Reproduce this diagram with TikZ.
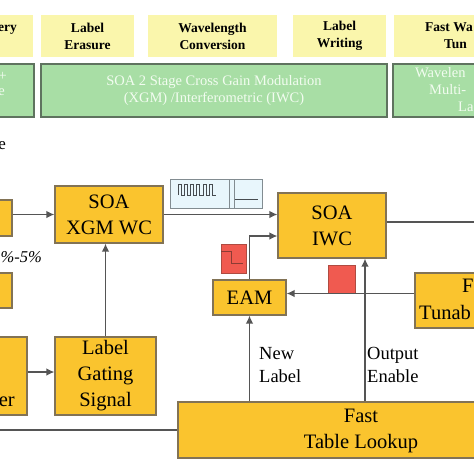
\documentclass[tikz,border=0pt]{standalone}
\usepackage{fontspec}
\setmainfont{Liberation Serif}
\usetikzlibrary{arrows.meta}
\definecolor{orangef}{RGB}{250,196,46}
\definecolor{orangeb}{RGB}{130,115,85}
\definecolor{yellowf}{RGB}{250,246,172}
\definecolor{greenf}{RGB}{168,222,165}
\definecolor{greenb}{RGB}{95,115,95}
\definecolor{greent}{RGB}{242,252,240}
\definecolor{redf}{RGB}{240,90,80}
\definecolor{redb}{RGB}{175,75,65}
\definecolor{linec}{RGB}{85,85,85}
\definecolor{pktf}{RGB}{232,246,252}
\definecolor{pktb}{RGB}{130,140,145}
\definecolor{wavec}{RGB}{70,75,80}
\tikzset{
  obox/.style={draw=orangeb, fill=orangef, line width=1.1pt, inner sep=0pt, align=center, font=\fontsize{20.5}{26}\selectfont},
  ybox/.style={fill=yellowf, draw=none, inner sep=0pt, align=center, font=\bfseries\fontsize{13.5}{17}\selectfont},
  gbox/.style={fill=greenf, draw=greenb, line width=1.1pt, inner sep=0pt, align=center, text=greent, font=\fontsize{14.5}{17}\selectfont},
  rbox/.style={fill=redf, draw=redb, line width=0.8pt, inner sep=0pt},
  pbox/.style={fill=pktf, draw=pktb, line width=0.8pt, inner sep=0pt},
  arr/.style={draw=linec, line width=1.4pt, -{Latex[length=8pt,width=7.5pt]}},
  conn/.style={draw=linec, line width=1.4pt},
  frag/.style={inner sep=0pt},
  lbl/.style={inner sep=0pt, align=left, font=\fontsize{18.5}{23}\selectfont}
}
\begin{document}
\begin{tikzpicture}[x=1pt,y=-1pt]
\useasboundingbox (0,0) rectangle (474,474);
\fill[white] (0,0) rectangle (474,474);
\clip (0,0) rectangle (474,474);

% top row
\node[ybox, minimum width=93pt, minimum height=42pt] (t1) at (-13.5,36) {};
\node[ybox, minimum width=93pt, minimum height=42pt] (t2) at (87.5,36) {Label\\Erasure};
\node[ybox, minimum width=129pt, minimum height=42pt] (t3) at (212.5,36) {Wavelength\\Conversion};
\node[ybox, minimum width=93pt, minimum height=42pt] (t4) at (339.5,36) {Label\\Writing};
\node[ybox, minimum width=126pt, minimum height=42pt] (t5) at (457,36) {};
\node[frag, font=\bfseries\fontsize{13.5}{17}\selectfont, anchor=mid east] (f1) at (17,29) {ery};
\node[frag, font=\bfseries\fontsize{13.5}{17}\selectfont, anchor=mid west] (f2) at (425,29) {Fast Wa};
\node[frag, font=\bfseries\fontsize{13.5}{17}\selectfont, anchor=mid west] (f3) at (444,46) {Tun};

% green row
\node[gbox, minimum width=94pt, minimum height=53pt] (g1) at (-13,90.5) {};
\node[gbox, minimum width=346pt, minimum height=53pt] (g2) at (214,90.5) {SOA 2 Stage Cross Gain Modulation\\(XGM) /Interferometric (IWC)};
\node[gbox, minimum width=147pt, minimum height=53pt] (g3) at (466.5,90.5) {};
\node[frag, text=greent, font=\fontsize{14.5}{17}\selectfont, anchor=mid east] (f4) at (7,78) {+};
\node[frag, text=greent, font=\fontsize{14.5}{17}\selectfont, anchor=mid east] (f5) at (5,93) {e};
\node[frag, text=greent, font=\fontsize{14.5}{17}\selectfont, anchor=mid west] (f6) at (415,75) {Wavelen};
\node[frag, text=greent, font=\fontsize{14.5}{17}\selectfont, anchor=mid west] (f7) at (429,92) {Multi-};
\node[frag, text=greent, font=\fontsize{14.5}{17}\selectfont, anchor=mid west] (f8) at (458,109) {La};

\node[frag, font=\fontsize{17}{20}\selectfont, anchor=mid east] (f9) at (6,147) {e};

% left partial boxes
\node[obox, minimum width=62pt, minimum height=36pt] (lb1) at (-19,218) {};
\node[obox, minimum width=62pt, minimum height=35pt] (lb2) at (-19,290.5) {};
\node[obox, minimum width=107pt, minimum height=78pt] (lb3) at (-26.5,376) {};
\node[frag, font=\itshape\fontsize{16.5}{20}\selectfont, anchor=mid east] (f10) at (42,260) {\%-5\%};
\node[frag, font=\fontsize{20.5}{26}\selectfont, anchor=mid east] (f11) at (15,404) {er};

% main boxes
\node[obox, minimum width=108pt, minimum height=57pt] (xgm) at (109,214.5) {SOA\\XGM WC};
\node[obox, minimum width=101pt, minimum height=78pt] (lgs) at (105.5,376) {Label\\Gating\\Signal};
\node[obox, minimum width=108pt, minimum height=65pt] (iwc) at (332,225.5) {SOA\\IWC};
\node[obox, minimum width=73pt, minimum height=35pt] (eam) at (249.5,297.5) {EAM};
\node[obox, minimum width=382pt, minimum height=56pt] (ftl) at (369,430) {};
\node[frag, align=center, font=\fontsize{20.5}{26}\selectfont] (ftlt) at (361,431) {Fast\\Table Lookup};
\node[obox, minimum width=125pt, minimum height=55pt] (ftn) at (477.5,300.5) {};
\node[frag, font=\fontsize{20.5}{26}\selectfont, anchor=mid west] (f12) at (462,290) {F};
\node[frag, font=\fontsize{20.5}{26}\selectfont, anchor=mid west] (f13) at (419,317) {Tunab};

% packet box
\node[pbox, minimum width=92pt, minimum height=29pt] (pkt) at (216,193.5) {};
\draw[wavec, line width=0.9pt] (178,195)
  \foreach \i in {0,...,5} { -- ++(0,-11) -- ++(3,0) -- ++(0,11) -- ++(3.3,0) };
\draw[pktb, line width=1pt] (229,179) -- (229,208);
\draw[pktb, line width=1pt] (234,179) -- (234,208);
\draw[wavec, line width=0.9pt] (235,199) -- (258,199);

% red squares
\node[rbox, minimum width=25pt, minimum height=29pt] (r1) at (233.5,258.5) {};
\draw[redb!80!black, line width=0.9pt] (221,251) -- (231,251) -- (231,263) -- (243,263);
\node[rbox, minimum width=27pt, minimum height=28pt] (r2) at (341.5,279) {};

% connectors
\draw[arr] (lb1.east |- xgm.west) -- (xgm.west);
\draw[arr] ([yshift=4pt]lb3.east) -- ([yshift=4pt]lgs.west);
\draw[arr] (lgs.north) -- (lgs.north |- xgm.south);
\draw[arr] (xgm.east) -- (iwc.west |- xgm.east);
\coordinate (rout) at (480,222);
\draw[conn] (iwc.east |- rout) -- (rout);
\draw[arr] (eam.north) |- ([yshift=-10.5pt]iwc.west);
\path ([yshift=7pt]ftn.west) coordinate (a1);
\draw[arr] (a1) -- (a1 -| eam.east);
\draw[arr] (eam.south |- ftl.north) -- (eam.south);
\coordinate (oe) at (365,0);
\draw[arr] (oe |- ftl.north) -- (oe |- iwc.south);
\coordinate (lin) at (-5,430);
\draw[conn] (lin) -- (ftl.west);

\node[lbl, anchor=west] (nl) at (259,365) {New\\Label};
\node[lbl, anchor=west] (oen) at (367,365) {Output\\Enable};
\end{tikzpicture}
\end{document}
